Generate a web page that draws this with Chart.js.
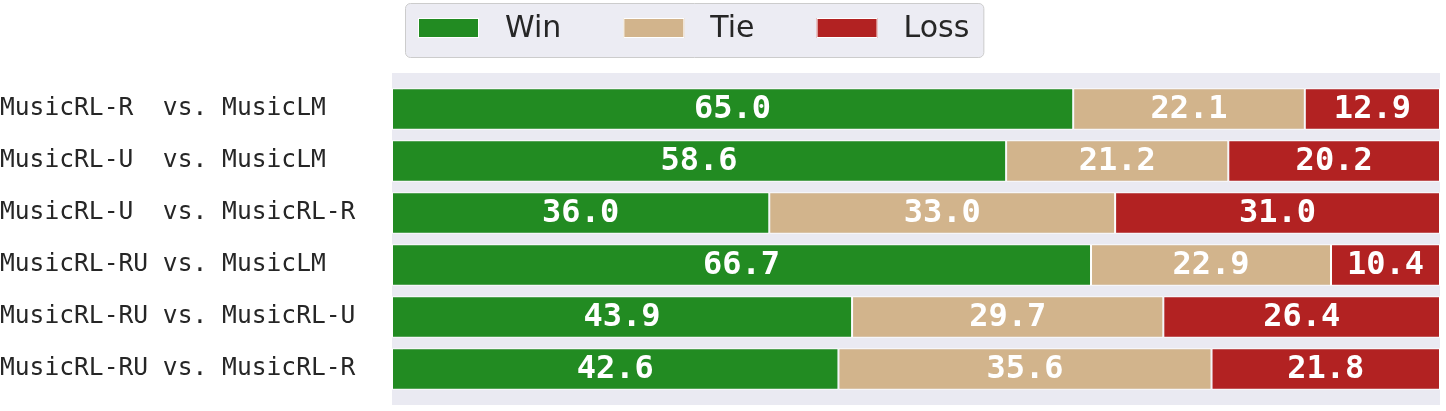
<!DOCTYPE html>
<html>
<head>
<meta charset="utf-8">
<script src="https://cdn.jsdelivr.net/npm/chart.js@4.4.1/dist/chart.umd.min.js"></script>
<style>
  html, body { margin: 0; padding: 0; background: #fff; }
  #wrap { width: 1446px; height: 411px; }
</style>
</head>
<body>
<div id="wrap"><canvas id="chart"></canvas></div>
<script>
const pairs = [
  'MusicRL-R  vs. MusicLM',
  'MusicRL-U  vs. MusicLM',
  'MusicRL-U  vs. MusicRL-R',
  'MusicRL-RU vs. MusicLM',
  'MusicRL-RU vs. MusicRL-U',
  'MusicRL-RU vs. MusicRL-R'
];
const winValues = [65.0, 58.6, 36.0, 66.7, 43.9, 42.6];
const tieValues = [22.1, 21.2, 33.0, 22.9, 29.7, 35.6];
const lossValues = [12.9, 20.2, 31.0, 10.4, 26.4, 21.8];
const outcomeNames = ['Win', 'Tie', 'Loss'];
const outcomeColors = ['#228B22', '#D2B48C', '#B22222'];

const mono = "'DejaVu Sans Mono', monospace";
const sans = "'DejaVu Sans', sans-serif";

// axes background, a bit taller than the rows like matplotlib margins
const axesBg = {
  id: 'axesBg',
  beforeDraw(chart) {
    const { ctx, chartArea: a } = chart;
    ctx.save();
    ctx.fillStyle = '#EAEAF2';
    ctx.fillRect(a.left, a.top - 10, a.right - a.left, a.bottom - a.top + 20);
    ctx.restore();
  }
};

// value printed in the middle of each segment
const barValues = {
  id: 'barValues',
  afterDatasetsDraw(chart) {
    const ctx = chart.ctx;
    ctx.save();
    ctx.font = 'bold 32px ' + mono;
    ctx.fillStyle = '#fff';
    ctx.textAlign = 'center';
    ctx.textBaseline = 'middle';
    chart.data.datasets.forEach((ds, i) => {
      chart.getDatasetMeta(i).data.forEach((bar, j) => {
        const p = bar.getProps(['x', 'y', 'base'], true);
        ctx.fillText(ds.data[j].toFixed(1), (p.x + p.base) / 2, p.y + 1);
      });
    });
    ctx.restore();
  }
};

// legend in a rounded frame above the plot
const frameLegend = {
  id: 'frameLegend',
  afterDraw(chart) {
    const ctx = chart.ctx;
    ctx.save();
    ctx.font = '30px ' + sans;
    const boxX = 405, boxY = 3, boxH = 54, cy = 28;
    let x = 418;
    const parts = chart.data.datasets.map(ds => {
      const w = ctx.measureText(ds.label).width;
      const item = { x, label: ds.label, color: ds.backgroundColor, w };
      x += 61 + 26 + w + 62;
      return item;
    });
    const boxW = x - 62 + 14 - boxX;
    ctx.beginPath();
    ctx.roundRect(boxX + 0.5, boxY + 0.5, boxW, boxH, 5);
    ctx.fillStyle = 'rgba(234,234,242,0.9)';
    ctx.fill();
    ctx.strokeStyle = '#cccccc';
    ctx.lineWidth = 1;
    ctx.stroke();
    parts.forEach(it => {
      ctx.fillStyle = it.color;
      ctx.fillRect(it.x, cy - 10, 61, 20);
      ctx.strokeStyle = '#ffffff';
      ctx.strokeRect(it.x + 0.5, cy - 9.5, 60, 19);
      ctx.fillStyle = '#262626';
      ctx.textBaseline = 'middle';
      ctx.fillText(it.label, it.x + 61 + 26, cy + 1);
    });
    ctx.restore();
  }
};

const datasets = [winValues, tieValues, lossValues].map((vals, i) => ({
  label: outcomeNames[i],
  data: vals,
  backgroundColor: outcomeColors[i],
  borderColor: '#ffffff',
  borderWidth: 1,
  borderSkipped: false,
  barPercentage: 0.8,
  categoryPercentage: 1.0
}));

new Chart(document.getElementById('chart'), {
  type: 'bar',
  data: { labels: pairs, datasets },
  options: {
    indexAxis: 'y',
    responsive: true,
    maintainAspectRatio: false,
    animation: false,
    layout: { padding: { top: 83, bottom: 16, right: 6, left: 0 } },
    plugins: {
      legend: { display: false },
      tooltip: { enabled: false }
    },
    scales: {
      x: {
        stacked: true,
        min: 0,
        max: 100,
        display: false
      },
      y: {
        stacked: true,
        grid: { display: false },
        border: { display: false },
        ticks: {
          crossAlign: 'far',
          padding: 0,
          color: '#262626',
          font: { family: mono, size: 24.6 }
        },
        afterFit(scale) { scale.width = 392; }
      }
    }
  },
  plugins: [axesBg, barValues, frameLegend]
});
</script>
</body>
</html>
